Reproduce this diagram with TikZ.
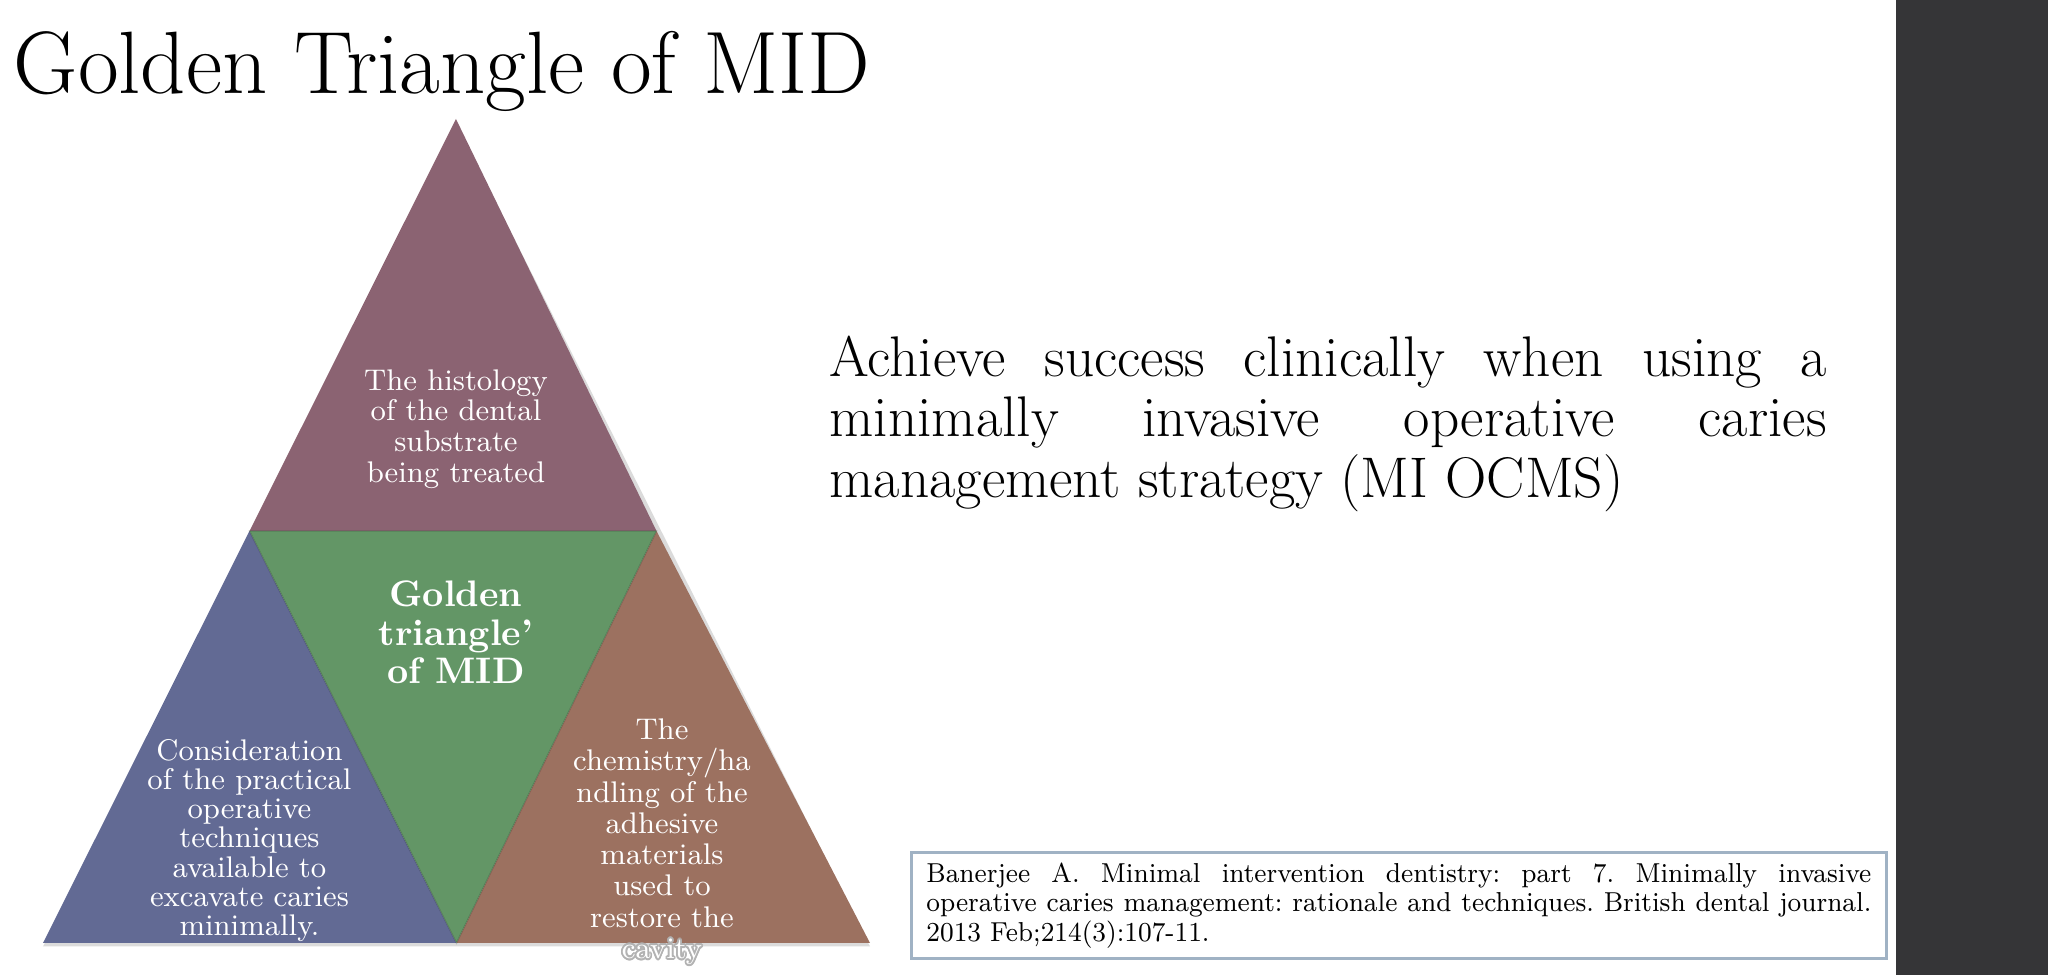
\documentclass[tikz,border=0pt]{standalone}
\usepackage{fontspec}
\usepackage{tikz}
\usepackage{xcolor}
\usepackage{contour}
\contourlength{0.5pt}
\newfontfamily\citefont{Latin Modern Roman}[FakeStretch=0.94]

\definecolor{topmauve}{RGB}{139,99,114}
\definecolor{midgreen}{RGB}{99,150,102}
\definecolor{leftblue}{RGB}{98,106,148}
\definecolor{rightbrown}{RGB}{156,113,96}
\definecolor{sidebar}{RGB}{53,53,55}
\definecolor{refframe}{RGB}{160,178,196}

\tikzset{
  facetext/.style={text=white, align=center, inner sep=0pt,
    font=\fontsize{8.5}{#1}\selectfont},
  facetext/.default=8.7pt,
  midtext/.style={text=white, align=center, inner sep=0pt,
    font=\bfseries\fontsize{10.5}{11}\selectfont},
  seam/.style={black, opacity=0.15, line width=0.4pt},
}

\begin{document}
\begin{tikzpicture}
  \useasboundingbox (0,0) rectangle (20.48,9.75);
  % dark strip on the right
  \fill[sidebar] (18.96,0) rectangle (20.48,9.75);
  % title
  \node[anchor=base west, inner sep=0pt, font=\fontsize{25.2}{29}\selectfont]
    (title) at (0.13,8.81) {Golden Triangle of MID};
  % corner points of the big triangle
  \coordinate (apex) at (4.56,8.56);
  \coordinate (bl) at (0.43,0.32);
  \coordinate (br) at (8.70,0.32);
  \coordinate (ml) at (2.495,4.44);
  \coordinate (mr) at (6.565,4.44);
  \coordinate (mb) at (4.565,0.32);
  % soft shadow under the base
  \fill[black!14] ([yshift=-0.035cm]bl) -- ([yshift=-0.035cm]br)
    -- ([yshift=-0.035cm]apex) -- cycle;
  % the four triangles
  \fill[topmauve] (apex) -- (ml) -- (mr) -- cycle;
  \fill[leftblue] (ml) -- (bl) -- (mb) -- cycle;
  \fill[rightbrown] (mr) -- (mb) -- (br) -- cycle;
  \fill[midgreen] (ml) -- (mr) -- (mb) -- cycle;
  \draw[seam] (ml) -- (mr) -- (mb) -- cycle;
  % texts in the triangles
  \node[facetext] (histology) at (4.56,5.46)
    {The histology\\of the dental\\substrate\\being treated};
  \node[midtext] (golden) at (4.56,3.425)
    {Golden\\triangle'\\of MID};
  \node[facetext=8.3pt] (operative) at (2.495,1.345)
    {Consideration\\of the practical\\operative\\techniques\\available to\\excavate caries\\minimally.};
  \node[facetext=8.9pt] (chemistry) at (6.62,1.325)
    {The\\chemistry/ha\\ndling of the\\adhesive\\materials\\used to\\restore the\\\contour{black!30}{cavity}};
  % statement on the right
  \node[anchor=north west, inner sep=0pt, text width=9.97cm, align=justify,
    font=\fontsize{16.3}{17.2}\selectfont] (aim) at (8.29,6.40)
    {Achieve success clinically when using a\linebreak
     minimally invasive operative caries\linebreak
     management strategy (MI OCMS)};
  % reference box
  \node[draw=refframe, line width=0.8pt, anchor=north west, text width=9.45cm,
    minimum height=1.06cm, inner xsep=0.15cm, inner ysep=0pt, align=justify,
    font=\citefont\fontsize{7.8}{8.4}\selectfont\frenchspacing] (source) at (9.10,1.24)
    {Banerjee A. Minimal intervention dentistry: part 7. Minimally invasive\linebreak
     operative caries management: rationale and techniques. British dental journal.\linebreak
     2013 Feb;214(3):107-11.};
\end{tikzpicture}
\end{document}
